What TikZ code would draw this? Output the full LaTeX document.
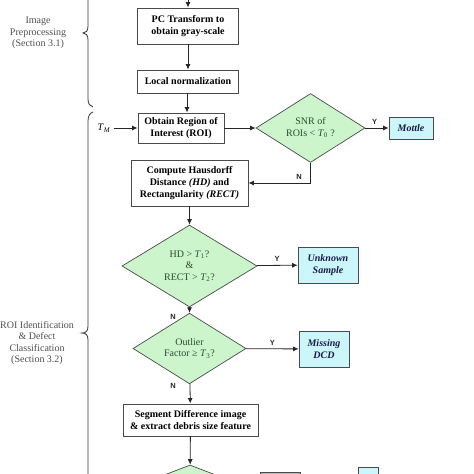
\documentclass[tikz,border=0pt]{standalone}
\usepackage{fontspec}
\setmainfont{Liberation Serif}
\newfontfamily\lsans{Liberation Sans}
\usetikzlibrary{shapes.geometric,arrows.meta}
\definecolor{dfill}{HTML}{CCF5CC}
\definecolor{rfill}{HTML}{CCF7FA}
\definecolor{bord}{HTML}{4A4A4A}
\definecolor{dtext}{HTML}{2E4A2E}
\definecolor{rtext}{HTML}{1A1A4A}
\definecolor{sidetext}{HTML}{505050}
\tikzset{
  procbox/.style={draw=bord, line width=0.9pt, fill=white, rectangle, inner sep=0pt, align=center,
    font=\fontsize{10}{12}\selectfont\bfseries},
  decbox/.style={draw=bord, line width=0.7pt, fill=dfill, diamond, inner sep=0pt, align=center,
    text=dtext, font=\fontsize{10}{11.5}\selectfont},
  resbox/.style={draw=bord, line width=0.8pt, fill=rfill, rectangle, inner sep=0pt, align=center,
    text=rtext, font=\fontsize{10}{12}\selectfont\bfseries\itshape},
  conn/.style={draw=black!85, line width=0.8pt, -{Latex[length=5.5pt,width=5pt]}},
  yn/.style={font=\lsans\fontsize{7.5}{8}\selectfont\bfseries, text=black!85},
  sidelab/.style={align=center, text=sidetext, font=\fontsize{10}{11.5}\selectfont},
  bracepath/.style={draw=black!80, line width=0.8pt}
}
\begin{document}
\begin{tikzpicture}[x=1pt,y=-1pt]
\useasboundingbox (0,0) rectangle (474,474);
\clip (0,0) rectangle (474,474);
\fill[white] (0,0) rectangle (474,474);

% process boxes
\node[procbox, minimum width=101pt, minimum height=36pt] (pc) at (188,26) {PC Transform to\\obtain gray-scale};
\node[procbox, minimum width=101pt, minimum height=23pt] (ln) at (188,81.5) {Local normalization};
\node[procbox, minimum width=86pt, minimum height=30pt] (roi) at (181,128) {Obtain Region of\\Interest (ROI)};
\node[procbox, minimum width=117pt, minimum height=46pt] (hd) at (189.5,183) {Compute Hausdorff\\Distance \textit{(HD)} and\\Rectangularity \textit{(RECT)}};
\node[procbox, minimum width=135pt, minimum height=32pt] (seg) at (190.5,420) {Segment Difference image\\\& extract debris size feature};

% decisions
\node[decbox, minimum width=109pt, minimum height=50pt] (snr) at (310.5,128) {SNR of\\ROIs < \textit{T}\textsubscript{0} ?};
\node[decbox, minimum width=135pt, minimum height=58pt] (d2) at (189.5,266) {HD > \textit{T}\textsubscript{1}?\\\&\\RECT > \textit{T}\textsubscript{2}?};
\node[decbox, minimum width=113pt, minimum height=55pt] (d3) at (189.5,348.5) {Outlier\\Factor ≥ \textit{T}\textsubscript{3}?};
\node[decbox, minimum width=130pt, minimum height=50pt] (d4) at (190,490) {};

% results
\node[resbox, minimum width=44pt, minimum height=22pt] (mottle) at (411,128) {Mottle};
\node[resbox, minimum width=60pt, minimum height=36pt] (unk) at (328,265) {Unknown\\Sample};
\node[resbox, minimum width=50pt, minimum height=36pt] (miss) at (324,349) {Missing\\DCD};
\node[draw=bord, line width=0.8pt, fill=gray!55, minimum width=40pt, minimum height=36pt, inner sep=0pt] (gbox) at (280,490) {};
\node[resbox, minimum width=20pt, minimum height=36pt] (cbox) at (368,485) {};

% inputs
\coordinate (top) at (188,-6);
\node[font=\fontsize{10}{12}\selectfont] (tm) at (104,128) {\textit{T}\textsubscript{\textit{M}}};

% connectors
\draw[conn] (top) -- (pc);
\draw[conn] (pc) -- (ln);
\draw[conn] (ln.south -| 187,0) -- (187,0 |- roi.north);
\draw[conn] (tm) -- (roi);
\draw[conn] (roi) -- (snr);
\draw[conn] (snr) -- node[yn, above, pos=0.4] (ly1) {Y} (mottle);
\draw[conn] (snr.south) |- node[yn, pos=0.35, left=5pt] (ln1) {N} (hd.east);
\draw[conn] (hd) -- (d2);
\draw[conn] (d2) -- node[yn, above, pos=0.5] (ly2) {Y} (unk);
\draw[conn] (d2) -- (d3);
\draw[conn] (d3) -- node[yn, above, pos=0.5] (ly3) {Y} (miss);
\draw[conn] (d3) -- (seg);
\draw[conn] (seg) -- (d4);
\node[yn] (ln2) at (173,317) {N};
\node[yn] (ln3) at (173,386) {N};
\node[yn, text=black!50] (ly4) at (247,478) {Y};

% braces
\draw[bracepath] (88,-10) -- (88,26) .. controls (88,31) and (86,33) .. (83,33)
  .. controls (86,33) and (88,35) .. (88,40) -- (88,99) .. controls (88,104) and (90,106) .. (93,107);
\draw[bracepath] (93,112) .. controls (90,113) and (88,116) .. (88,121) -- (88,326)
  .. controls (88,331) and (86,333) .. (82,333) .. controls (86,333) and (88,335) .. (88,340) -- (88,480);

% side labels
\node[sidelab] (lab1) at (38,33) {Image\\Preprocessing\\(Section 3.1)};
\node[sidelab] (lab2) at (37,343) {ROI Identification\\\& Defect\\Classification\\(Section 3.2)};
\end{tikzpicture}
\end{document}
